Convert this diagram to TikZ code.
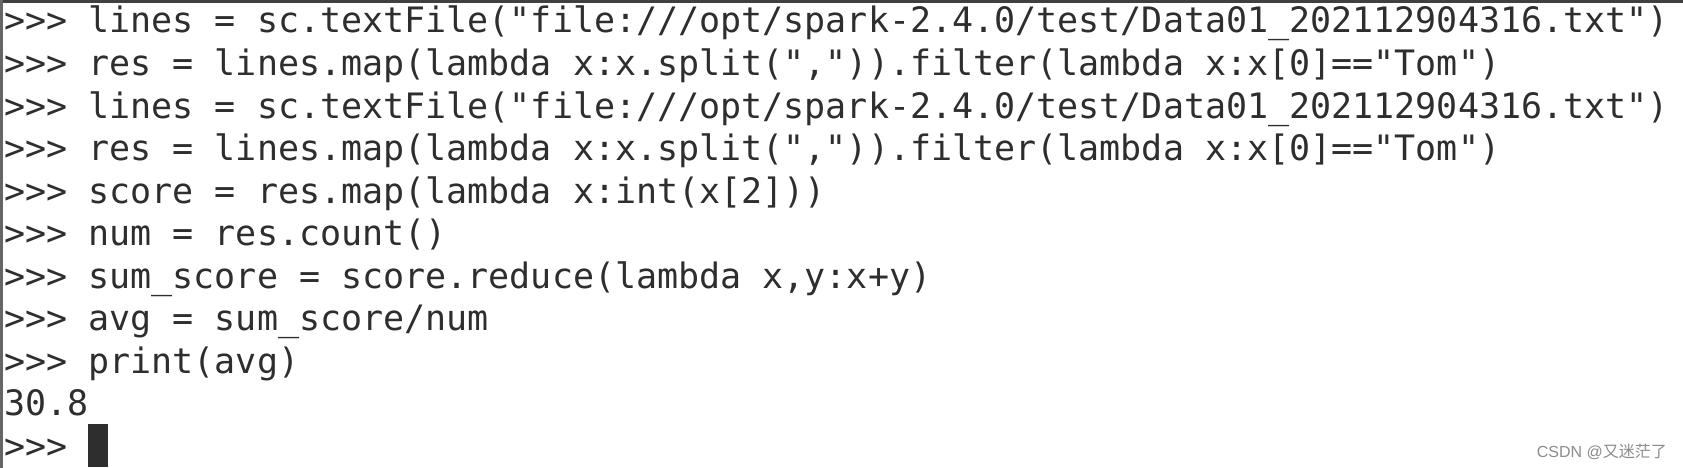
\documentclass[tikz,border=0pt]{standalone}
\usepackage{fontspec}
\newfontfamily\term{DejaVu Sans Mono}[Ligatures={NoCommon,NoRequired,NoContextual}]
\newfontfamily\cjk{Noto Sans CJK SC}
\newfontfamily\wmf{Liberation Sans}
\begin{document}
\begin{tikzpicture}[x=1pt,y=-1pt,
  ln/.style={anchor=base west,inner sep=0pt,font=\term\fontsize{35}{38}\selectfont,text=black!82}]
\useasboundingbox (0,0) rectangle (1683,468);
\fill[white] (0,0) rectangle (1683,468);
\fill[black!75] (0,0) rectangle (1683,3);
\fill[black!60] (0,0) rectangle (2.5,468);
\node[ln] (l1) at (4,33) {>>> lines = sc.textFile("file:///opt/spark-2.4.0/test/Data01\_202112904316.txt")};
\node[ln] (l2) at (4,75.5) {>>> res = lines.map(lambda x:x.split(",")).filter(lambda x:x[0]=="Tom")};
\node[ln] (l3) at (4,118) {>>> lines = sc.textFile("file:///opt/spark-2.4.0/test/Data01\_202112904316.txt")};
\node[ln] (l4) at (4,160.5) {>>> res = lines.map(lambda x:x.split(",")).filter(lambda x:x[0]=="Tom")};
\node[ln] (l5) at (4,203) {>>> score = res.map(lambda x:int(x[2]))};
\node[ln] (l6) at (4,245.5) {>>> num = res.count()};
\node[ln] (l7) at (4,288) {>>> sum\_score = score.reduce(lambda x,y:x+y)};
\node[ln] (l8) at (4,330.5) {>>> avg = sum\_score/num};
\node[ln] (l9) at (4,373) {>>> print(avg)};
\node[ln] (l10) at (4,415.5) {30.8};
\node[ln] (l11) at (4,458) {>>>};
\fill[black!82] (88,424) rectangle (108,467);
\node[anchor=base east,inner sep=0pt,font=\fontsize{16}{18}\selectfont,text=black!45] (wm) at (1667,457) {\wmf CSDN @\cjk 又迷茫了};
\end{tikzpicture}
\end{document}
